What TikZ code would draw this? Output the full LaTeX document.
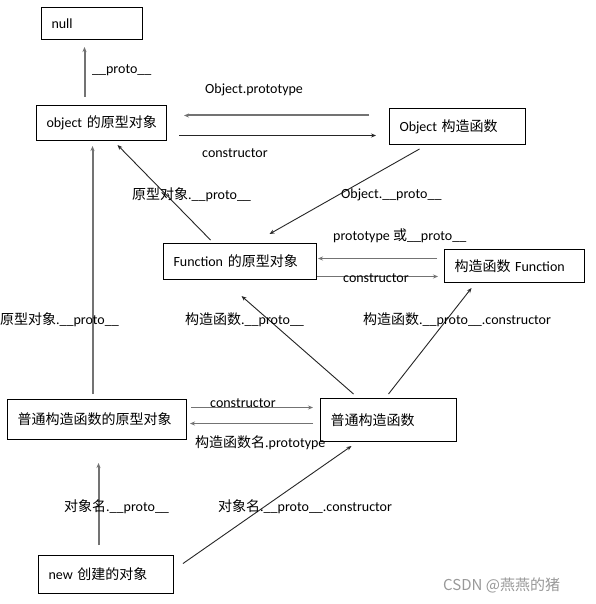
\documentclass[tikz,border=0pt]{standalone}
\usepackage{fontspec}
\setmainfont{Carlito}
\newfontfamily\cjk{Noto Sans CJK SC}
\usetikzlibrary{arrows.meta,positioning}

\tikzset{
  protobox/.style={draw,line width=1pt,anchor=north west,inner xsep=10pt,inner ysep=0pt,align=left},
  grayarrow/.style={-{Stealth[length=5pt,width=4pt]},draw=black!55,line width=2pt},
  darkarrow/.style={-{Stealth[length=5pt,width=4pt]},draw=black!85,line width=0.9pt},
  lbl/.style={anchor=west,inner sep=0pt}
}

\begin{document}
\begin{tikzpicture}[x=1pt,y=-1pt,font=\fontsize{14}{16}\selectfont]
\useasboundingbox[fill=white] (0,0) rectangle (595,604);

% boxes
\node[protobox,text width=81pt,minimum height=32pt] at (41,7) (null){null};
\node[protobox,text width=110pt,minimum height=35pt] at (36,105) (objproto){\mbox{object {\cjk 的原型对象}}};
\node[protobox,text width=116pt,minimum height=36pt] at (389,108) (objctor){\mbox{Object {\cjk 构造函数}}};
\node[protobox,text width=133pt,minimum height=36pt] at (163,243) (funcproto){\mbox{Function {\cjk 的原型对象}}};
\node[protobox,text width=120pt,minimum height=33pt] at (444,249) (funcctor){\mbox{{\cjk 构造函数} Function}};
\node[protobox,text width=159pt,minimum height=40pt] at (7,399) (normproto){\cjk 普通构造函数的原型对象};
\node[protobox,text width=116pt,minimum height=43pt] at (320,398) (normctor){\cjk 普通构造函数};
\node[protobox,text width=115pt,minimum height=38pt] at (38,555) (newobj){\mbox{new {\cjk 创建的对象}}};

% top part
\draw[grayarrow] ([xshift=-17pt,yshift=8pt]objproto.north) -- ([xshift=-7.5pt,yshift=-7pt]null.south);
\node[lbl] at (92,70) (l1){\_\_proto\_\_};

\draw[grayarrow] ([xshift=-20pt,yshift=11pt]objctor.west) -- ([xshift=17pt,yshift=7.5pt]objproto.east);
\node[lbl] at (205,90) (l2){Object.prototype};
\draw[darkarrow] ([xshift=12pt,yshift=-12.5pt]objproto.east) -- ([xshift=-13pt,yshift=-9pt]objctor.west);
\node[lbl] at (202,153) (l3){constructor};

\draw[darkarrow] ([xshift=-29.5pt,yshift=3pt]funcproto.north) -- ([xshift=16pt,yshift=-4pt]objproto.south);
\node[lbl] at (132,195) (l4){{\cjk 原型对象}.\_\_proto\_\_};
\draw[darkarrow] ([xshift=-38pt,yshift=-4pt]objctor.south) -- ([xshift=29.5pt,yshift=9pt]funcproto.north);
\node[lbl] at (341,195) (l5){Object.\_\_proto\_\_};

% Function
\draw[grayarrow,line width=1.5pt] ([xshift=-7pt,yshift=7.5pt]funcctor.west) -- ([xshift=1pt,yshift=3pt]funcproto.east);
\node[lbl] at (333,236) (l6){prototype {\cjk 或}\_\_proto\_\_};
\draw[grayarrow,line width=1.5pt] ([yshift=-15pt]funcproto.east) -- ([xshift=-6pt,yshift=-10.5pt]funcctor.west);
\node[lbl] at (343,278) (l7){constructor};

% middle
\draw[grayarrow] ([xshift=-4.5pt,yshift=5pt]normproto.north) -- ([xshift=-9pt,yshift=-5pt]objproto.south);
\node[lbl,anchor=east] at (119,320) (l8){{\cjk 原型对象}.\_\_proto\_\_};
\draw[darkarrow] ([xshift=-35pt,yshift=4pt]normctor.north) -- ([xshift=1.5pt,yshift=-16pt]funcproto.south);
\node[lbl] at (185,320) (l9){{\cjk 构造函数}.\_\_proto\_\_};
\draw[darkarrow] ([yshift=4pt]normctor.north) -- ([xshift=-43pt,yshift=-5pt]funcctor.south);
\node[lbl] at (363,320) (l10){{\cjk 构造函数}.\_\_proto\_\_.constructor};

\draw[grayarrow,line width=1.5pt] ([xshift=4pt,yshift=12pt]normproto.east) -- ([xshift=-7pt,yshift=12.5pt]normctor.west);
\node[lbl] at (210,403) (l11){constructor};
\draw[grayarrow,line width=1.5pt] ([xshift=-7pt,yshift=-3.5pt]normctor.west) -- ([xshift=3pt,yshift=-4pt]normproto.east);
\node[lbl] at (195,443) (l12){{\cjk 构造函数名}.prototype};

% bottom
\draw[grayarrow] ([xshift=-7.5pt,yshift=10pt]newobj.north) -- ([xshift=1.5pt,yshift=-23pt]normproto.south);
\node[lbl] at (64,507) (l13){{\cjk 对象名}.\_\_proto\_\_};
\draw[darkarrow] ([xshift=9pt,yshift=11pt]newobj.east) -- ([xshift=-37pt,yshift=-4pt]normctor.south);
\node[lbl] at (218,507) (l14){{\cjk 对象名}.\_\_proto\_\_.constructor};

\node[lbl,text=black!40,font=\cjk\fontsize{15}{17}\selectfont] at (443,585) (mark){CSDN @燕燕的猪};
\end{tikzpicture}
\end{document}
